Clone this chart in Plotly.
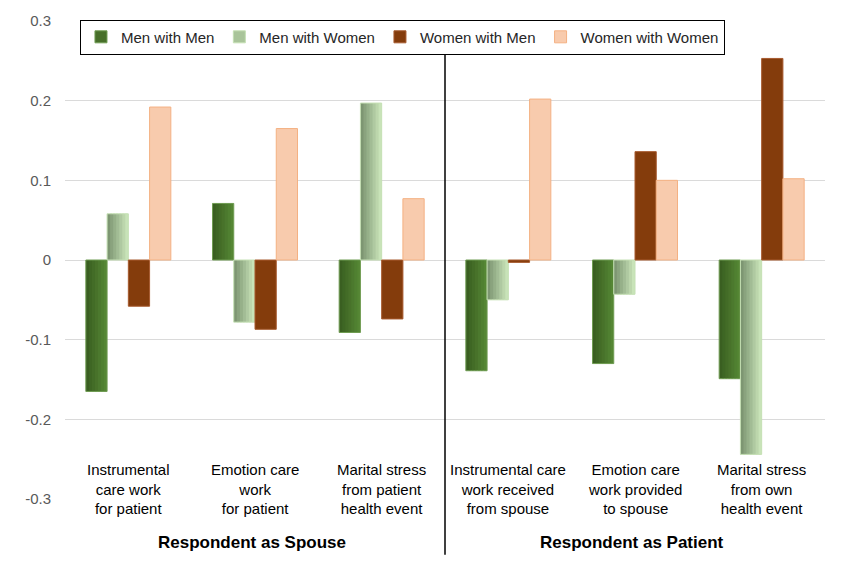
import plotly.graph_objects as go

categories = [
    "Instrumental<br>care work<br>for patient",
    "Emotion care<br>work<br>for patient",
    "Marital stress<br>from patient<br>health event",
    "Instrumental care<br>work received<br>from spouse",
    "Emotion care<br>work provided<br>to spouse",
    "Marital stress<br>from own<br>health event",
]
groups = ["Respondent as Spouse", "Respondent as Patient"]
series_names = ["Men with Men", "Men with Women", "Women with Men", "Women with Women"]
men_with_men = [-0.165, 0.071, -0.091, -0.139, -0.130, -0.149]
men_with_women = [0.058, -0.078, 0.197, -0.050, -0.043, -0.244]
women_with_men = [-0.058, -0.087, -0.074, -0.003, 0.136, 0.253]
women_with_women = [0.192, 0.165, 0.077, 0.202, 0.100, 0.102]
y_ticks = [0.3, 0.2, 0.1, 0, -0.1, -0.2, -0.3]
y_tick_text = ["0.3", "0.2", "0.1", "0", "-0.1", "-0.2", "-0.3"]

values = [men_with_men, men_with_women, women_with_men, women_with_women]
xs = list(range(len(categories)))

group_w = 0.671
w = group_w / 4
start = -group_w / 2

def hex2rgb(h):
    h = h.lstrip("#")
    return tuple(int(h[i:i + 2], 16) for i in (0, 2, 4))

def lerp(c1, c2, t):
    a, b = hex2rgb(c1), hex2rgb(c2)
    return "rgb(%d,%d,%d)" % tuple(round(a[i] + (b[i] - a[i]) * t) for i in range(3))

styles = [
    dict(grad=("#3a5f21", "#558634"), border="#6f9c52", legend="#476f2a"),
    dict(grad=("#7d9672", "#c8e3b8"), border="#c5e0b4", legend="#a9c49a"),
    dict(grad=None, fill="#843c0c", border="#a75a2e"),
    dict(grad=None, fill="#f8cbad", border="#f4b183"),
]

fig = go.Figure()
N = 7
for s, (name, vals, st) in enumerate(zip(series_names, values, styles)):
    off = start + s * w
    if st["grad"]:
        sw = w / N
        for k in range(N):
            # slices overlap slightly so that no seams show between them
            width_k = sw * 1.6 if k < N - 1 else sw
            fig.add_trace(go.Bar(
                x=xs, y=vals, width=width_k, offset=off + k * sw,
                marker=dict(color=lerp(st["grad"][0], st["grad"][1], k / (N - 1)), line=dict(width=0)),
                name=name, showlegend=False, legendgroup=name, hoverinfo="skip"))
        fig.add_trace(go.Bar(
            x=xs, y=vals, width=w, offset=off, name=name, legendgroup=name,
            marker=dict(color="rgba(0,0,0,0)", line=dict(color=st["border"], width=1)),
            showlegend=False))
        fig.add_trace(go.Bar(
            x=[None], y=[None], name=name, legendgroup=name,
            marker=dict(color=st["legend"], line=dict(color=st["border"], width=1))))
    else:
        fig.add_trace(go.Bar(
            x=xs, y=vals, width=w, offset=off, name=name, legendgroup=name,
            marker=dict(color=st["fill"], line=dict(color=st["border"], width=1))))

fig.update_layout(
    width=847, height=572,
    margin=dict(l=65, r=22, t=19, b=73),
    paper_bgcolor="white", plot_bgcolor="white",
    barmode="overlay",
    font=dict(family="Liberation Sans, sans-serif", color="#000000"),
    xaxis=dict(range=[-0.5, 5.5], showticklabels=False, showgrid=False, zeroline=False,
               showline=False, ticks=""),
    yaxis=dict(range=[-0.3, 0.3], tickvals=y_ticks, ticktext=y_tick_text,
               tickfont=dict(family="Liberation Sans, sans-serif", size=15, color="#595959"),
               showgrid=True, gridcolor="#dadada", gridwidth=1,
               zeroline=True, zerolinecolor="#dadada", zerolinewidth=1,
               showline=False, ticks="outside", ticklen=10, tickcolor="rgba(0,0,0,0)"),
    legend=dict(orientation="h", x=0.0197, y=1.003, xanchor="left", yanchor="top",
                bordercolor="#000000", borderwidth=1, bgcolor="white",
                font=dict(family="Liberation Sans, sans-serif", size=15, color="#262626"),
                traceorder="normal", itemwidth=30),
    showlegend=True,
)

for i, c in enumerate(categories):
    fig.add_annotation(x=i, y=0.0208, xref="x", yref="paper", text=c, showarrow=False,
                       xanchor="center", yanchor="middle",
                       font=dict(size=15, color="#000000", family="Liberation Sans, sans-serif"))

for gi, g in enumerate(groups):
    fig.add_annotation(x=1 + 3 * gi - 0.02, y=-0.0917, xref="x", yref="paper", text="<b>%s</b>" % g,
                       showarrow=False, xanchor="center", yanchor="middle",
                       font=dict(size=17, color="#000000", family="Liberation Sans, sans-serif"))

fig.add_shape(type="line", xref="x", yref="paper", x0=2.5, x1=2.5, y0=-0.1167, y1=0.94,
              line=dict(color="#000000", width=1.5))

fig.write_html("out.html")
